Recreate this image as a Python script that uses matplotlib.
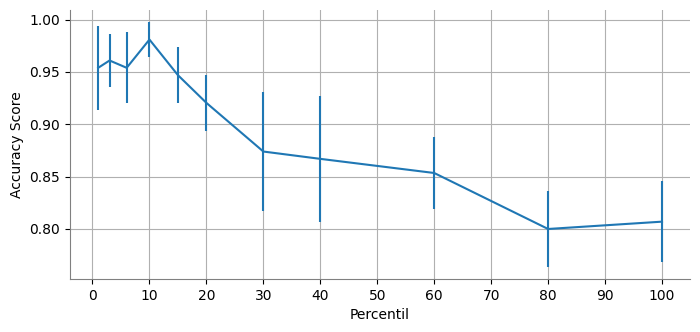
import matplotlib
matplotlib.use("Agg")
import matplotlib.pyplot as plt

percentil = [1, 3, 6, 10, 15, 20, 30, 40, 60, 80, 100]
accuracy = [0.954, 0.961, 0.954, 0.981, 0.947, 0.9205, 0.874, 0.867, 0.8535, 0.800, 0.807]
error = [0.040, 0.025, 0.034, 0.0166, 0.027, 0.0266, 0.057, 0.060, 0.034, 0.036, 0.039]

fig = plt.figure(figsize=(7, 3.32), dpi=100)
ax = fig.add_axes([0.1, 0.16, 0.886, 0.81])

ax.errorbar(percentil, accuracy, yerr=error, color='#1f77b4')
ax.set_xticks(range(0, 101, 10))
ax.set_xlabel("Percentil")
ax.set_ylabel("Accuracy Score")
ax.grid(True, color='#b0b0b0')
ax.set_axisbelow(True)

ax.spines['top'].set_visible(False)
ax.spines['right'].set_visible(False)
ax.spines['left'].set_color('gray')
ax.spines['bottom'].set_color('gray')

fig.savefig("out.png", dpi=100)
